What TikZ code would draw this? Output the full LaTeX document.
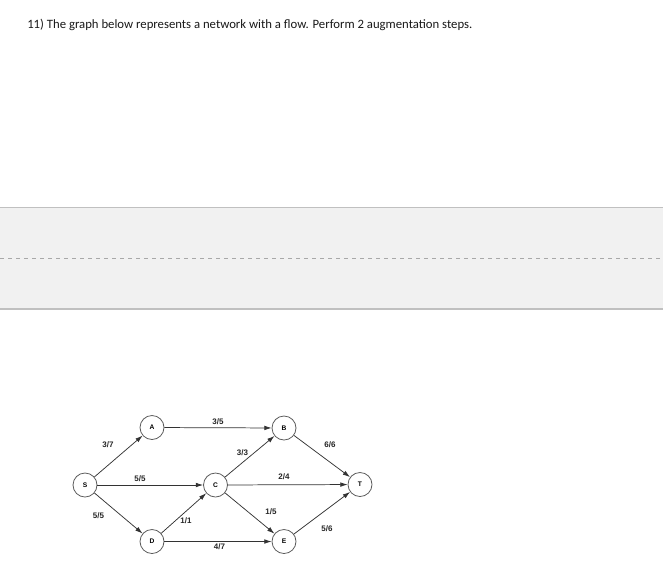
\documentclass[tikz,border=0pt]{standalone}
\usepackage{fontspec}
\setmainfont{Carlito}
\newfontfamily\graphfont{Liberation Sans}
\usetikzlibrary{arrows.meta}
\definecolor{bandfill}{HTML}{F1F1F1}
\definecolor{bandline}{HTML}{C0C0C0}
\definecolor{dashline}{HTML}{A8A8A8}
\definecolor{edgecol}{HTML}{333333}
\tikzset{
  vtx/.style={circle,draw=edgecol!80,line width=0.6pt,fill=white,minimum size=18,inner sep=0pt,font=\graphfont\bfseries\fontsize{5}{6}\selectfont},
  edge/.style={draw=edgecol,line width=0.55pt,-{Latex[length=5.5,width=3.5]}},
  lbl/.style={font=\graphfont\bfseries\fontsize{6}{7}\selectfont,text=black!85,inner sep=0pt}
}
\begin{document}
\begin{tikzpicture}[x=0.75pt,y=-0.75pt]
\useasboundingbox (0,0) rectangle (663,572);
\fill[white] (0,0) rectangle (663,572);
% title
\node[anchor=base west,inner sep=0pt,font=\fontsize{9.55}{11}\selectfont,text=black!90] (title) at (27,28) {11) The graph below represents a network with a flow. Perform 2 augmentation steps.};
% band
\fill[bandfill] (0,207.5) rectangle (663,309);
\draw[bandline,line width=0.9pt] (0,207.5) -- (663,207.5);
\draw[bandline,line width=0.9pt] (0,309) -- (663,309);
\draw[dashline,line width=0.7pt,dash pattern=on 3 off 3] (0,258.5) -- (663,258.5);
% nodes
\node[vtx] (S) at (85,485) {S};
\node[vtx] (A) at (152,427.5) {A};
\node[vtx] (C) at (215.5,485) {C};
\node[vtx] (D) at (152,541.5) {D};
\node[vtx] (B) at (284,428) {B};
\node[vtx] (T) at (360,484.5) {T};
\node[vtx] (E) at (284,541.5) {E};
% edges
\draw[edge] (S) -- (A);
\draw[edge] (S) -- (C);
\draw[edge] (S) -- (D);
\draw[edge] (A) -- (B);
\draw[edge] (C) -- (B);
\draw[edge] (D) -- (C);
\draw[edge] (C) -- (T);
\draw[edge] (C) -- (E);
\draw[edge] (D) -- (E);
\draw[edge] (B) -- (T);
\draw[edge] (E) -- (T);
% labels
\node[lbl] (l1) at (108,445) {3/7};
\node[lbl] (l2) at (218,421.5) {3/5};
\node[lbl] (l3) at (140,478.5) {5/5};
\node[lbl] (l4) at (98.5,516) {5/5};
\node[lbl] (l5) at (186,521) {1/1};
\node[lbl] (l6) at (219.5,546.5) {4/7};
\node[lbl] (l7) at (242.5,452.5) {3/3};
\node[lbl] (l8) at (330,445) {6/6};
\node[lbl] (l9) at (284,476.5) {2/4};
\node[lbl] (l10) at (271,511.5) {1/5};
\node[lbl] (l11) at (327,528.5) {5/6};
\end{tikzpicture}
\end{document}
